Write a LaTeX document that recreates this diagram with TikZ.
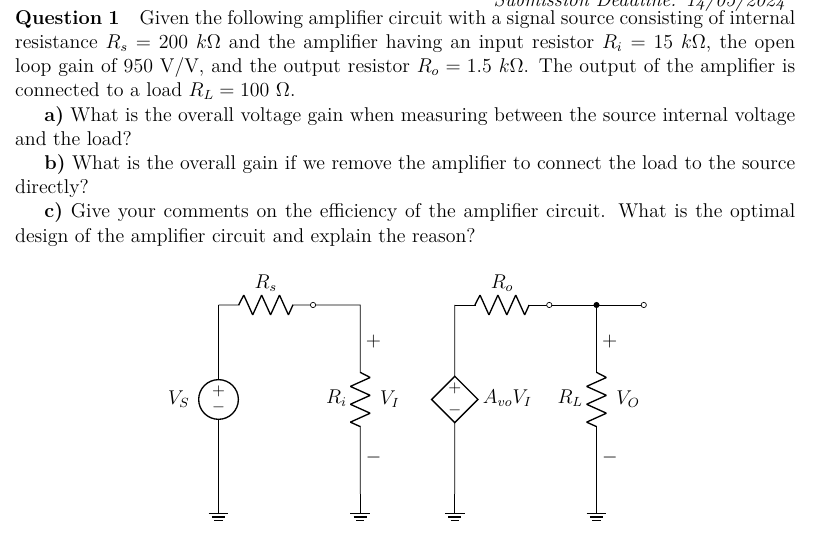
\documentclass[tikz,border=0pt]{standalone}
\usepackage{amsmath, amssymb, amsfonts}
\usepackage{tikz}
\usepackage{xcolor}
\usepackage[american]{circuitikz}

\begin{document}
\begin{tikzpicture}[font=\fontsize{12}{14.57}\selectfont]
    \useasboundingbox (-4.625,-0.974) rectangle (12.878,10.455);
    \clip (-4.625,-0.974) rectangle (12.878,10.455);
    \tikzset{sheettext/.style={inner sep=0pt}}

    \node[sheettext, anchor=base east] (deadline) at (12.0,10.31) {\textit{Submission Deadline: 14/05/2024}};
    \node[sheettext, anchor=north west, text width=469.75pt, align=justify] (question) at (-4.31,10.245) {%
        \setlength{\parindent}{17.6pt}%
        \noindent\textbf{Question 1}\quad Given the following amplifier circuit with a signal source consisting of internal resistance $R_s = 200~k\Omega$ and the amplifier having an input resistor $R_i = 15~k\Omega$, the open loop gain of 950 V/V, and the output resistor $R_o = 1.5~k\Omega$. The output of the amplifier is connected to a load $R_L = 100~\Omega$.\par
        \textbf{a)} What is the overall voltage gain when measuring between the source internal voltage and the load?\par
        \textbf{b)} What is the overall gain if we remove the amplifier to connect the load to the source directly?\par
        \textbf{c)} Give your comments on the efficiency of the amplifier circuit. What is the optimal design of the amplifier circuit and explain the reason?\par};

    % input side
    \coordinate (srcbot) at (0,0);
    \coordinate (srctop) at (0,4);
    \coordinate (inport) at (2,4);
    \coordinate (intop) at (3,4);
    \coordinate (inbot) at (3,0);
    \draw (srctop) to[V] (srcbot);
    \node (lblvs) at (-0.84,2) {$V_S$};
    \draw (srctop) to[R, l=$R_s$, -o] (inport)
        -- (intop)
        to[R, l_=$R_i$, v^=$V_I$] (inbot);
    \node[ground] (gndsrc) at (srcbot) {};
    \node[ground] (gndin) at (inbot) {};

    % output side
    \coordinate (ampbot) at (5,0);
    \coordinate (amptop) at (5,4);
    \coordinate (outport) at (7,4);
    \coordinate (junction) at (8,4);
    \coordinate (outend) at (9,4);
    \coordinate (loadbot) at (8,0);
    \draw (amptop) to[cV, l=$A_{vo}V_I$] (ampbot);
    \draw (amptop) to[R, l=$R_o$, -o] (outport)
        -- (junction)
        to[short, *-o] (outend);
    \draw (junction) to[R, l_=$R_L$, v^=$V_O$] (loadbot);
    \node[ground] (gndamp) at (ampbot) {};
    \node[ground] (gndload) at (loadbot) {};
\end{tikzpicture}
\end{document}
